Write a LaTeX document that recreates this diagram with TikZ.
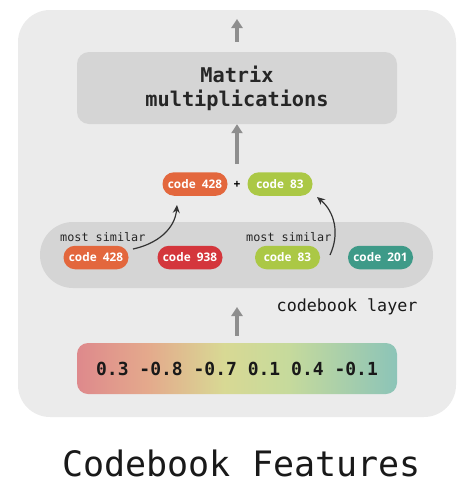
\documentclass[tikz,border=0pt]{standalone}
\usepackage{fontspec}
\setmonofont{DejaVu Sans Mono}
\newfontfamily\pillfont{Open Sans}
\usetikzlibrary{positioning, arrows.meta}

\definecolor{panelgray}{HTML}{EBEBEB}
\definecolor{boxgray}{HTML}{D5D5D5}
\definecolor{arrgray}{HTML}{8E8E8E}
\definecolor{codeorange}{HTML}{E3673D}
\definecolor{codered}{HTML}{D4363C}
\definecolor{codegreen}{HTML}{ABC845}
\definecolor{codeteal}{HTML}{3E9A88}
\definecolor{gradA}{HTML}{DE898C}
\definecolor{gradB}{HTML}{E4A98C}
\definecolor{gradC}{HTML}{D8D994}
\definecolor{gradD}{HTML}{C6DA9C}
\definecolor{gradE}{HTML}{8CC4B8}

\pgfdeclarehorizontalshading{featshade}{100bp}{
    color(0bp)=(gradA); color(25bp)=(gradA); color(36bp)=(gradB);
    color(48bp)=(gradC); color(58bp)=(gradD); color(75bp)=(gradE);
    color(100bp)=(gradE)}

\begin{document}
\begin{tikzpicture}[
    x=1pt, y=-1pt,
    font=\ttfamily,
    uparr/.style={-{Triangle[length=9pt, width=11pt]}, line width=4.5pt, arrgray},
    bendarr/.style={-{Stealth[length=8pt, width=7pt]}, line width=1.2pt, black!80},
    pill/.style={
        rounded corners=11.5pt, minimum width=65pt, minimum height=23.5pt,
        inner sep=0pt, text=white, font=\pillfont\bfseries\fontsize{11.8}{13}\selectfont,
    },
    simlabel/.style={text=black!85, inner sep=0pt, anchor=base west,
        font=\ttfamily\fontsize{11.8}{14}\selectfont},
]
\useasboundingbox (0,0) rectangle (474,491);

% --- Panel --------------------------------------------------
\fill[panelgray, rounded corners=32pt] (18,10) rectangle (456,417);

% --- Matrix multiplications ---------------------------------
\node[fill=boxgray, rounded corners=12pt, minimum width=320pt, minimum height=72pt,
      align=center, font=\ttfamily\bfseries\fontsize{20.3}{24}\selectfont, text=black!85]
    (mm) at (237,88) {Matrix\\multiplications};
\coordinate (top) at (237,19);
\draw[uparr] (mm.north) ++(0,-10) coordinate (mmtop) (mmtop) -- (top);

% --- Combined codes -----------------------------------------
\node[pill, fill=codeorange] (sum428) at (195,184) {code\ \ 428};
\node[font=\pillfont\bfseries\fontsize{12}{13}\selectfont] (plus) at (237,185) {+};
\node[pill, fill=codegreen] (sum83) at (280,184) {code\ \ 83};
\draw[uparr] (237,164) coordinate (sumtop) -- (mm.south);

% --- Codebook layer -----------------------------------------
\node[fill=boxgray, rounded corners=33pt, minimum width=393pt, minimum height=66pt]
    (layer) at (236.5,255) {};
\node[pill, fill=codeorange] (c428) at (96,257.5) {code\ \ 428};
\node[pill, fill=codered] (c938) at (190,257.5) {code\ \ 938};
\node[pill, fill=codegreen] (c83) at (287.5,257.5) {code\ \ 83};
\node[pill, fill=codeteal] (c201) at (380.5,257.5) {code\ \ 201};
\node[simlabel] (sim1) at (60,241) {most similar};
\node[simlabel] (sim2) at (246,241) {most similar};
\node[font=\ttfamily\fontsize{16.7}{20}\selectfont, text=black!90, anchor=east]
    (layername) at (421,307) {codebook layer};

\coordinate (s1) at (133,249);
\coordinate (e1) at (177,205);
\draw[bendarr] (s1) to[out=12, in=-95] (e1);
\coordinate (s2) at (330,255);
\coordinate (e2) at (317,197);
\draw[bendarr] (s2) to[out=65, in=-40] (e2);

% --- Feature vector -----------------------------------------
\node[shading=featshade, rounded corners=11pt, minimum width=320pt, minimum height=51pt,
      font=\ttfamily\bfseries\fontsize{18}{20}\selectfont, text=black!90]
    (feat) at (237,368.5) {0.3 -0.8 -0.7 0.1 0.4 -0.1};
\draw[uparr] (feat.north) ++(0,-7) coordinate (feattop) (feattop) -- (237,307);

% --- Title --------------------------------------------------
\node[font=\ttfamily\fontsize{35}{40}\selectfont, text=black!90] (title) at (241.5,463) {Codebook Features};

\end{tikzpicture}
\end{document}
